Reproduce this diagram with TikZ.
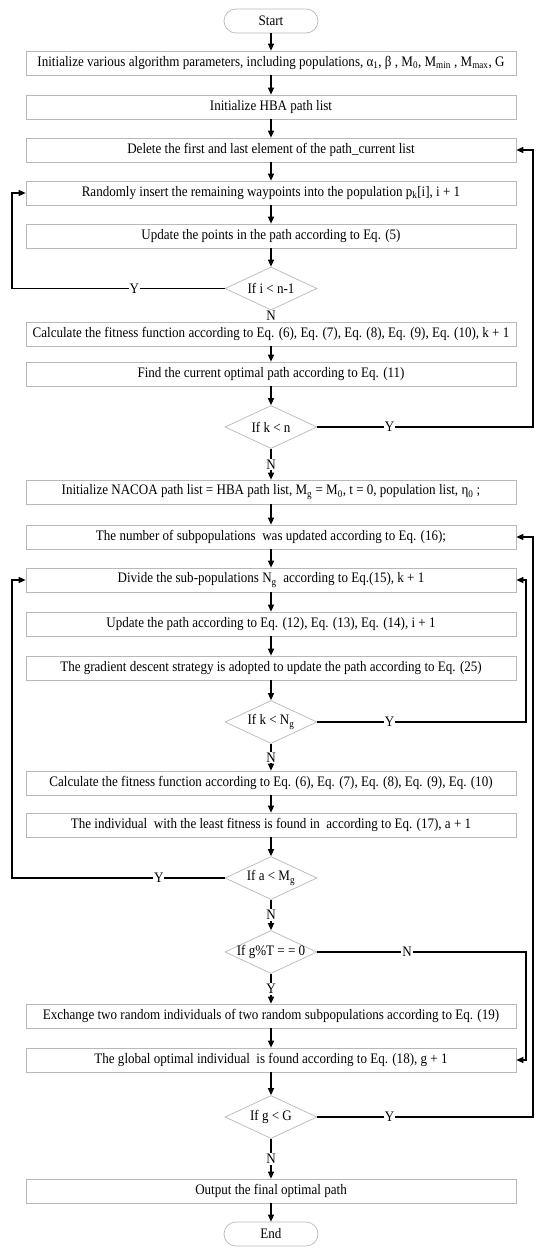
\documentclass[tikz,border=0pt]{standalone}
\usepackage{fontspec}
\setmainfont{Liberation Serif}[FakeStretch=0.9]
\usetikzlibrary{shapes.geometric,arrows.meta}
\newcommand{\fs}{\fontsize{14.5}{17}\selectfont}
\begin{document}
\begin{tikzpicture}[x=1pt,y=-1pt,
  box/.style={draw=gray!55, line width=0.7pt, minimum width=490pt, minimum height=24pt, inner sep=0pt, font=\fs},
  term/.style={draw=gray!55, line width=0.7pt, rounded corners=12pt, minimum width=94pt, minimum height=24pt, inner sep=0pt, font=\fs},
  dec/.style={draw=gray!55, line width=0.7pt, diamond, minimum width=92pt, minimum height=43pt, inner sep=0pt},
  dtxt/.style={font=\fs, inner sep=0pt},
  conn/.style={line width=1.2pt, -{Triangle[length=7pt,width=6pt]}},
  line/.style={line width=1.2pt},
  lbl/.style={fill=white, inner sep=1pt, font=\fs}]
\path[use as bounding box, fill=white] (0,0) rectangle (550,1251);
\coordinate (L) at (12,0);
\coordinate (R1) at (533,0);
\coordinate (R2) at (526,0);

\node[term] (start) at (271,21) {Start};
\node[box] (b1) at (271,63) {Initialize various algorithm parameters, including populations, α\textsubscript{1}, β , M\textsubscript{0}, M\textsubscript{min} , M\textsubscript{max}, G};
\node[box] (b2) at (271,107) {Initialize HBA path list};
\node[box] (b3) at (271,150) {Delete the first and last element of the path\_current list};
\node[box] (b4) at (271,193) {Randomly insert the remaining waypoints into the population p\textsubscript{k}[i], i + 1};
\node[box] (b5) at (271,236) {Update the points in the path according to Eq. (5)};
\node[dec, label={[dtxt]center:If i < n-1}] (d1) at (271,288.5) {};
\node[box] (b6) at (271,334) {Calculate the fitness function according to Eq. (6), Eq. (7), Eq. (8), Eq. (9), Eq. (10), k + 1};
\node[box] (b7) at (271,374) {Find the current optimal path according to Eq. (11)};
\node[dec, label={[dtxt]center:If k < n}] (d2) at (271,427) {};
\node[box] (b8) at (271,492) {Initialize NACOA path list = HBA path list, M\textsubscript{g} = M\textsubscript{0}, t = 0, population list, η\textsubscript{0} ;};
\node[box] (b9) at (271,537) {The number of subpopulations~ was updated according to Eq. (16);};
\node[box] (b10) at (271,580) {Divide the sub-populations N\textsubscript{g}~ according to Eq.(15), k + 1};
\node[box] (b11) at (271,624) {Update the path according to Eq. (12), Eq. (13), Eq. (14), i + 1};
\node[box] (b12) at (271,668) {The gradient descent strategy is adopted to update the path according to Eq. (25)};
\node[dec, label={[dtxt]center:If k < N\textsubscript{g}}] (d3) at (271,722) {};
\node[box] (b13) at (271,783) {Calculate the fitness function according to Eq. (6), Eq. (7), Eq. (8), Eq. (9), Eq. (10)};
\node[box] (b14) at (271,825) {The individual~ with the least fitness is found in~ according to Eq. (17), a + 1};
\node[dec, label={[dtxt]center:If a < M\textsubscript{g}}] (d4) at (271,878) {};
\node[dec, label={[dtxt]center:If g\%T = = 0}] (d5) at (271,952) {};
\node[box] (b15) at (271,1016) {Exchange two random individuals of two random subpopulations according to Eq. (19)};
\node[box] (b16) at (271,1060) {The global optimal individual~ is found according to Eq. (18), g + 1};
\node[dec, label={[dtxt]center:If g < G}] (d6) at (271,1117) {};
\node[box] (b17) at (271,1191) {Output the final optimal path};
\node[term] (end) at (271,1234) {End};

\draw[conn] (start) -- (b1);
\draw[conn] (b1) -- (b2);
\draw[conn] (b2) -- (b3);
\draw[conn] (b3) -- (b4);
\draw[conn] (b4) -- (b5);
\draw[conn] (b5) -- (d1);
\draw[line] (d1) -- node[lbl]{N} (b6);
\draw[conn] (d1.west) -- node[lbl,pos=0.425]{Y} (d1.west -| L) |- (b4.west);
\draw[conn] (b6) -- (b7);
\draw[conn] (b7) -- (d2);
\draw[conn] (d2) -- node[lbl]{N} (b8);
\draw[conn] (d2.east) -- node[lbl,pos=0.335]{Y} (d2.east -| R1) |- (b3.east);
\draw[conn] (b8) -- (b9);
\draw[conn] (b9) -- (b10);
\draw[conn] (b10) -- (b11);
\draw[conn] (b11) -- (b12);
\draw[conn] (b12) -- (d3);
\draw[conn] (d3) -- node[lbl]{N} (b13);
\draw[conn] (d3.east) -- node[lbl,pos=0.346]{Y} (d3.east -| R2) |- (b10.east);
\draw[conn] (b13) -- (b14);
\draw[conn] (b14) -- (d4);
\draw[conn] (d4.west) -- node[lbl,pos=0.31]{Y} (d4.west -| L) |- (b10.west);
\draw[conn] (d4) -- node[lbl]{N} (d5);
\draw[conn] (d5) -- node[lbl]{Y} (b15);
\draw[conn] (d5.east) -- node[lbl,pos=0.43]{N} (d5.east -| R2) |- (b16.east);
\draw[conn] (b15) -- (b16);
\draw[conn] (b16) -- (d6);
\draw[conn] (d6.east) -- node[lbl,pos=0.335]{Y} (d6.east -| R1) |- (b9.east);
\draw[conn] (d6) -- node[lbl]{N} (b17);
\draw[conn] (b17) -- (end);
\end{tikzpicture}
\end{document}
